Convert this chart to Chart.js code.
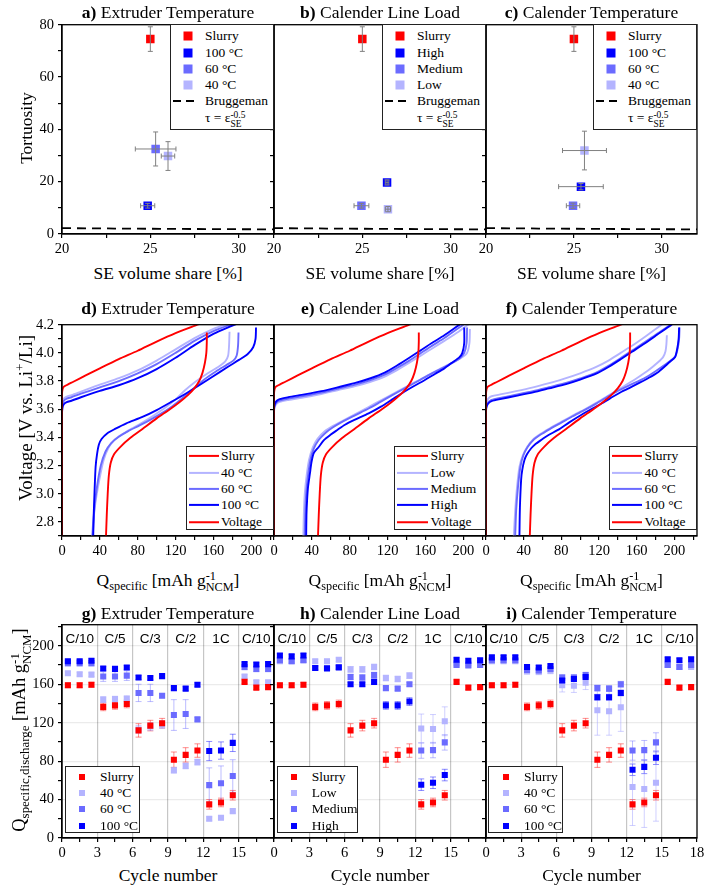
<!DOCTYPE html>
<html>
<head>
<meta charset="utf-8">
<script src="https://cdn.jsdelivr.net/npm/chart.js@4.4.1/dist/chart.umd.min.js"></script>
<style>
  body { margin: 0; background: #fff; }
  #page { position: relative; width: 710px; height: 893px; overflow: hidden;
          font-family: 'Liberation Serif', 'Times New Roman', serif; color: #000; }
  canvas { position: absolute; }
  .t { position: absolute; white-space: nowrap; font-size: 17.5px; line-height: 1;
       transform: translate(-50%, -50%); z-index: 5; }
  .rot { transform: translate(-50%, -50%) rotate(-90deg); }
  .leg { position: absolute; background: #fff; border: 1.2px solid #222; box-sizing: border-box;
         font-size: 13.5px; z-index: 5; }
  .li { position: absolute; white-space: nowrap; line-height: 1; transform: translateY(-50%); }
  .mk { position: absolute; transform: translate(-50%, -50%); }
  .ln { position: absolute; transform: translateY(-50%); }
  .ss { display: inline-block; vertical-align: middle; line-height: 0.9; font-size: 0.7em; text-align: left; }
  sub.s { font-size: 0.7em; vertical-align: -0.3em; line-height: 0; }
  sup.s { font-size: 0.7em; vertical-align: 0.55em; line-height: 0; }
</style>
</head>
<body>
<div id="page"></div>
<script>
// ---------- colours ----------
const cSlurry = '#ff0000';
const cDark = '#0000ff';    // 100 °C / High
const cMid = '#6b6bff';     // 60 °C / Medium
const cLight = '#b4b4ff';   // 40 °C / Low

// ---------- row 1: tortuosity vs SE volume share ----------
const tortNamesA = ['Slurry', '100 °C', '60 °C', '40 °C'];
const tortNamesB = ['Slurry', 'High', 'Medium', 'Low'];
const tortNamesC = ['Slurry', '100 °C', '60 °C', '40 °C'];

const seShareA = [25.0, 24.85, 25.3, 26.0];
const tortA = [74.5, 10.8, 32.5, 29.8];
const seErrA = [0, 0.4, 1.15, 0.38];
const tortErrA = [4.7, 0.9, 6.5, 5.5];

const seShareB = [25.0, 26.4, 24.95, 26.45];
const tortB = [74.5, 19.7, 10.8, 9.5];
const seErrB = [0, 0.1, 0.42, 0.15];
const tortErrB = [4.7, 1.0, 0.9, 1.0];

const seShareC = [25.0, 25.4, 24.95, 25.6];
const tortC = [74.5, 18.1, 10.8, 31.9];
const seErrC = [0, 1.27, 0.38, 1.25];
const tortErrC = [4.7, 1.2, 1.0, 7.4];

const bruggX = [20, 23, 26, 29, 32];
const bruggY = [2.24, 2.09, 1.96, 1.86, 1.77];

// ---------- row 2: voltage profiles [Q, V] ----------
const slurryCharge = [[0,2.70],[0,3.70],[0.5,3.74],[2,3.76],[6,3.775],[12,3.795],[25,3.84],[40,3.89],[60,3.955],[80,4.015],[100,4.08],[120,4.14],[143,4.2],[160,4.25]];
const slurryDischarge = [[153,4.145],[153,4.08],[152.5,4.0],[151,3.93],[148.5,3.86],[145,3.8],[140,3.75],[133,3.7],[124,3.65],[114,3.6],[100,3.535],[85,3.46],[72,3.395],[62,3.335],[55,3.28],[51.5,3.22],[49.5,3.13],[48.3,3.0],[47.3,2.85],[46.5,2.70]];

const d100Charge = [[0,2.70],[0,3.56],[0.5,3.61],[2,3.635],[5,3.65],[10,3.66],[20,3.685],[40,3.73],[60,3.77],[80,3.82],[100,3.885],[120,3.965],[140,4.055],[160,4.135],[175,4.18],[192,4.225]];
const d60Charge = [[0,2.70],[0,3.58],[0.5,3.63],[2,3.66],[5,3.675],[10,3.685],[20,3.71],[40,3.755],[60,3.8],[80,3.855],[100,3.92],[120,4.0],[140,4.085],[160,4.155],[182,4.21]];
const d40Charge = [[0,2.70],[0,3.60],[0.5,3.65],[2,3.675],[5,3.69],[10,3.70],[20,3.725],[40,3.775],[60,3.82],[80,3.875],[100,3.945],[120,4.025],[140,4.105],[160,4.17],[178,4.215]];
const d100Discharge = [[205,4.18],[204.5,4.1],[202,4.04],[196,3.99],[187,3.95],[175,3.9],[159,3.83],[145,3.77],[131,3.712],[115,3.65],[100,3.594],[85,3.545],[68,3.5],[56,3.46],[48,3.43],[42,3.39],[39,3.35],[37,3.28],[35.5,3.19],[34.3,3.0],[33.5,2.85],[33,2.70]];
const d60Discharge = [[186.5,4.145],[186,4.05],[184.5,3.98],[181,3.945],[174,3.915],[163,3.87],[150,3.81],[136,3.73],[122,3.65],[110,3.59],[96,3.535],[82,3.485],[70,3.445],[60,3.405],[52,3.36],[46,3.3],[41,3.2],[37,3.05],[34,2.88],[32.5,2.70]];
const d40Discharge = [[177,4.15],[176.5,4.05],[175.5,3.98],[172.5,3.94],[165,3.9],[154,3.855],[141,3.795],[130,3.735],[120,3.67],[110,3.615],[98,3.56],[85,3.505],[73,3.46],[63,3.42],[55,3.38],[49,3.325],[44,3.24],[39.5,3.1],[35,2.92],[31.5,2.70]];

const eHighCharge = [[0,2.70],[0,3.60],[1,3.64],[3,3.66],[6,3.672],[15,3.685],[32,3.705],[50,3.728],[67,3.755],[85,3.785],[102,3.82],[117,3.86],[130,3.91],[143,3.965],[155,4.018],[168,4.075],[180,4.125],[196,4.2],[205,4.24]];
const eMedCharge = [[0,2.70],[0,3.59],[1,3.63],[3,3.65],[6,3.662],[15,3.675],[32,3.695],[50,3.718],[67,3.745],[85,3.773],[102,3.806],[117,3.845],[130,3.893],[143,3.945],[155,3.998],[168,4.055],[180,4.105],[200,4.2],[207,4.23]];
const eLowCharge = [[0,2.70],[0,3.58],[1,3.62],[3,3.64],[6,3.652],[15,3.665],[32,3.685],[50,3.708],[67,3.735],[85,3.762],[102,3.795],[117,3.832],[130,3.878],[143,3.93],[155,3.98],[168,4.035],[180,4.085],[195,4.15],[205,4.2],[210,4.22]];
const eHighDischarge = [[201,4.18],[201,4.07],[199,4.0],[196,3.97],[188,3.93],[180,3.89],[170,3.85],[159,3.806],[148,3.765],[137.6,3.724],[125,3.67],[113,3.618],[100,3.57],[85,3.524],[75,3.49],[67,3.453],[60,3.42],[53,3.382],[47,3.33],[42,3.288],[39.5,3.22],[38,3.146],[36,3.05],[35,2.958],[34.3,2.85],[34,2.70]];
const eMedDischarge = [[204,4.18],[203.5,4.07],[201,4.0],[196,3.96],[186,3.92],[170,3.865],[155,3.81],[140,3.755],[125,3.7],[112,3.65],[100,3.605],[85,3.555],[72,3.51],[62,3.47],[54,3.43],[47,3.38],[42,3.32],[38.5,3.24],[36,3.13],[34,3.0],[33,2.85],[32.5,2.70]];
const eLowDischarge = [[207,4.17],[206.5,4.07],[204,4.0],[198,3.965],[188,3.93],[172,3.875],[157,3.82],[141,3.765],[126,3.71],[112,3.66],[100,3.615],[86,3.565],[73,3.52],[62,3.48],[53,3.44],[46,3.39],[41,3.33],[37,3.24],[34.5,3.13],[32.5,3.0],[31.5,2.85],[31,2.70]];

const f100Charge = [[0,2.70],[0,3.59],[1,3.625],[3,3.645],[6,3.658],[15,3.672],[32,3.695],[50,3.72],[67,3.748],[85,3.778],[100,3.81],[117,3.852],[130,3.9],[143,3.955],[155,4.008],[168,4.065],[182,4.13],[197,4.2],[205,4.24]];
const f60Charge = [[0,2.70],[0,3.60],[1,3.635],[3,3.653],[6,3.666],[15,3.68],[32,3.703],[50,3.728],[67,3.756],[85,3.786],[100,3.818],[117,3.86],[130,3.908],[143,3.963],[155,4.016],[168,4.073],[182,4.138],[196,4.2],[204,4.235]];
const f40Charge = [[0,2.70],[0,3.62],[1,3.66],[3,3.68],[6,3.692],[15,3.705],[32,3.728],[50,3.755],[67,3.785],[80,3.81],[100,3.855],[117,3.9],[130,3.945],[143,4.0],[155,4.05],[170,4.12],[186.5,4.2],[195,4.24]];
const f100Discharge = [[205,4.18],[204.5,4.1],[203,4.03],[200.7,3.97],[195,3.935],[183,3.865],[172,3.82],[161.6,3.783],[152,3.75],[143.9,3.724],[135,3.69],[126,3.653],[113,3.605],[101,3.559],[88,3.505],[76.4,3.453],[66,3.415],[58.6,3.382],[52,3.35],[48,3.323],[43.5,3.28],[40.9,3.241],[38.5,3.17],[37.3,3.1],[36,2.9],[35.5,2.70]];
const f60Discharge = [[205.5,4.18],[205,4.1],[203.5,4.03],[201,3.975],[194,3.935],[180,3.87],[168,3.82],[157,3.785],[146,3.75],[137,3.72],[127,3.68],[117,3.64],[105,3.595],[92,3.55],[80,3.505],[68,3.46],[58,3.42],[50,3.38],[44,3.33],[39.5,3.27],[36.5,3.19],[34,3.05],[32,2.88],[31,2.70]];
const f40Discharge = [[192,4.125],[191.5,4.06],[190.5,4.01],[188,3.97],[182,3.93],[172,3.875],[160,3.82],[148,3.77],[137,3.725],[127,3.685],[117,3.645],[105,3.6],[92,3.555],[80,3.51],[68,3.465],[58,3.425],[50,3.385],[44,3.335],[39,3.27],[35.5,3.19],[33,3.05],[31,2.88],[29.5,2.70]];

// ---------- row 3: rate capability ----------
const cycleNo = [0.5,1.5,2.5,3.5,4.5,5.5,6.5,7.5,8.5,9.5,10.5,11.5,12.5,13.5,14.5,15.5,16.5,17.5];
const rateNames = ['C/10','C/5','C/3','C/2','1C','C/10'];
const rateMid = [1.5,4.5,7.5,10.5,13.5,16.5];

const qSlurry = [159,159,159.5, 136.5,138,139.5, 112,117,119.5, 81.5,86.5,91, 35,37,44.5, 162.5,156.5,157];
const qSlurryErr = [2.5,2.5,2.5, 4,4,4, 7,5.5,5, 8,7.5,7, 5,4.5,5, 2,2,2];

const qG40 = [171.5,170.5,170, 144,144.5,145, 113,116,118, 70.5,75,79, 20,21,28, 168,162,162];
const qG40Err = [2,2,2, 3,3,3, 4,4,4, 3,3,3, 2,2,2, 2,2,2];
const qG60 = [182,182,182, 168,168,169, 151,151,148, 128,129,123.5, 55,57,64.5, 178,176,176];
const qG60Err = [3,3,3, 5,5,5, 9,9,2, 16,15,2, 18,18,17, 3,3,3];
const qG100 = [184,184,184.5, 176.5,176,177.5, 167,166.5,168.5, 156,155.5,159.5, 90.5,91,99, 181,180.5,181];
const qG100Err = [2,2,2, 2,2,2, 2,2,2, 2,2,2, 10,9,9, 2,2,2];

const qHLow = [184,184,185, 184,184,185.5, 175.5,175.5,178, 166.5,165.5,169, 114,113.5,121.5, 182,181.5,182];
const qHLowErr = [2,2,2, 2,2,2, 3,3,3, 3,3,3, 15,15,15, 2,2,2];
const qHMed = [185,184,185, 177,177,178, 167.5,167,169.5, 156,155.5,160, 91,91.5,99.5, 180,179.5,180];
const qHMedErr = [2,2,2, 2,2,2, 3,3,3, 2,2,2, 8,8,8, 2,2,2];
const qHHigh = [190,189,190, 177,176.5,177.5, 160,160,162.5, 138,138,142, 55.5,57.5,65.5, 185.5,184.5,185];
const qHHighErr = [2,2,2, 2,2,2, 2,2,2, 4,4,4, 6,6,6, 2,2,2];

const qI40 = [184,184,184, 173.5,173,174, 159,158.5,161.5, 133,132,136, 53,51,57.5, 180,178,178];
const qI40Err = [2,2,2, 3,3,3, 7,7,7, 26,25,25, 40,40,40, 2,2,2];
const qI60 = [185,185,185, 175,174.5,176, 167,167,169.5, 156,155.5,160, 91,91.5,99.5, 180,178,180];
const qI60Err = [2,2,2, 2,2,2, 3,3,3, 3,3,3, 10,10,10, 2,2,2];
const qI100 = [188,188,188, 178,177.5,179, 164,165.5,167.5, 146.5,146.5,151, 71,74,83.5, 186,185,186];
const qI100Err = [2,2,2, 2,2,2, 2,2,2, 3,3,3, 6,7,7, 2,2,2];

// ---------- layout ----------
const page = document.getElementById('page');
const ML = 52, MT = 12, MR = 14, MB = 24;
const colL = [62, 274, 486];
const colW = [212, 212, 211];
const serif = "'Liberation Serif', 'Times New Roman', serif";

Chart.defaults.font.family = serif;
Chart.defaults.font.size = 14.5;
Chart.defaults.color = '#000';

const isMult = (v, m) => Math.abs(v / m - Math.round(v / m)) < 1e-6;

function axis(dir, min, max, step, major, fmt, gridColor) {
  return {
    type: 'linear', min, max, bounds: 'data',
    afterBuildTicks: s => {
      const t = [];
      for (let k = 0; min + k * step <= max + 1e-9; k++) t.push({ value: +(min + k * step).toFixed(6) });
      s.ticks = t;
    },
    afterFit: s => { if (dir === 'y') s.width = ML; else s.height = MB; },
    ticks: {
      autoSkip: false, maxRotation: 0, minRotation: 0, padding: dir === 'y' ? 4 : 2,
      font: { family: serif, size: 14.5 }, color: '#000',
      callback: v => (fmt && isMult(v, major)) ? fmt(v) : ''
    },
    grid: {
      drawOnChartArea: !!gridColor,
      color: gridColor ? (c => gridColor(c.tick ? c.tick.value : 0)) : 'rgba(0,0,0,0)',
      tickColor: '#000', tickLength: 4, lineWidth: 1.2
    },
    border: { display: true, color: '#000', width: 1.3 }
  };
}

const framePlugin = {
  id: 'frame',
  afterDraw(c) {
    const a = c.chartArea, ctx = c.ctx;
    ctx.save();
    ctx.strokeStyle = '#000';
    ctx.lineWidth = 1.3;
    ctx.strokeRect(a.left, a.top, a.right - a.left, a.bottom - a.top);
    ctx.restore();
  }
};

function drawErrors(c) {
  const { ctx, chartArea: a } = c;
  const xs = c.scales.x, ys = c.scales.y;
  ctx.save();
  ctx.beginPath();
  ctx.rect(a.left, a.top, a.right - a.left, a.bottom - a.top);
  ctx.clip();
  c.data.datasets.forEach(ds => {
    if (!ds.yErr) return;
    ctx.strokeStyle = ds.errColor;
    ctx.lineWidth = 1;
    const cap = ds.capW || 3;
    ds.data.forEach((p, i) => {
      const px = xs.getPixelForValue(p.x), py = ys.getPixelForValue(p.y);
      const ey = ds.yErr[i] || 0, ex = ds.xErr ? ds.xErr[i] || 0 : 0;
      ctx.beginPath();
      if (ey) {
        const y1 = ys.getPixelForValue(p.y + ey), y2 = ys.getPixelForValue(p.y - ey);
        ctx.moveTo(px, y1); ctx.lineTo(px, y2);
        ctx.moveTo(px - cap, y1); ctx.lineTo(px + cap, y1);
        ctx.moveTo(px - cap, y2); ctx.lineTo(px + cap, y2);
      }
      if (ex) {
        const x1 = xs.getPixelForValue(p.x - ex), x2 = xs.getPixelForValue(p.x + ex);
        ctx.moveTo(x1, py); ctx.lineTo(x2, py);
        ctx.moveTo(x1, py - cap); ctx.lineTo(x1, py + cap);
        ctx.moveTo(x2, py - cap); ctx.lineTo(x2, py + cap);
      }
      ctx.stroke();
    });
  });
  ctx.restore();
}
const errAfter = { id: 'errAfter', afterDatasetsDraw: drawErrors };
const errBefore = { id: 'errBefore', beforeDatasetsDraw: drawErrors };

const ratePlugin = {
  id: 'rates',
  afterDatasetsDraw(c) {
    const ctx = c.ctx, xs = c.scales.x;
    ctx.save();
    ctx.font = "13.5px 'Liberation Sans', Arial, sans-serif";
    ctx.fillStyle = '#000';
    ctx.textAlign = 'center';
    ctx.textBaseline = 'middle';
    rateNames.forEach((r, i) => ctx.fillText(r, xs.getPixelForValue(rateMid[i]), c.chartArea.top + 14.5));
    ctx.restore();
  }
};

function makeChart(l, t, w, h, datasets, xAx, yAx, plugins) {
  const cv = document.createElement('canvas');
  cv.width = w + ML + MR;
  cv.height = h + MT + MB;
  cv.style.left = (l - ML) + 'px';
  cv.style.top = (t - MT) + 'px';
  page.appendChild(cv);
  new Chart(cv, {
    type: 'scatter',
    data: { datasets },
    options: {
      responsive: false, animation: false, devicePixelRatio: 1, events: [],
      layout: { padding: { top: MT, right: MR, left: 0, bottom: 0 } },
      scales: { x: xAx, y: yAx },
      plugins: { legend: { display: false }, tooltip: { enabled: false } }
    },
    plugins: [framePlugin].concat(plugins)
  });
}

// ---------- row 1 ----------
const tortColors = [cSlurry, cDark, cMid, cLight];
function tortSets(xs, ys, xe, ye) {
  const sets = xs.map((x, i) => ({
    data: [{ x, y: ys[i] }], xErr: [xe[i]], yErr: [ye[i]], errColor: '#808080', capW: 2.5,
    pointStyle: 'rect', pointRadius: 6, backgroundColor: tortColors[i], borderWidth: 0, showLine: false
  }));
  sets.push({
    data: bruggX.map((x, i) => ({ x, y: bruggY[i] })), showLine: true, pointRadius: 0,
    borderColor: '#000', borderWidth: 1.8, borderDash: [9, 6], clip: 0
  });
  return sets;
}
const row1Data = [[seShareA, tortA, seErrA, tortErrA], [seShareB, tortB, seErrB, tortErrB], [seShareC, tortC, seErrC, tortErrC]];
row1Data.forEach((d, k) => {
  makeChart(colL[k], 24, colW[k], 210, tortSets(...d),
    axis('x', 20, 32, 2.5, 5, v => String(v)),
    axis('y', 0, 80, 10, 20, k === 0 ? (v => String(v)) : null),
    [errAfter]);
});

// ---------- row 2 ----------
function vSet(points, color, width) {
  return { data: points.map(p => ({ x: p[0], y: p[1] })), showLine: true, pointRadius: 0,
           borderColor: color, borderWidth: width, tension: 0.25, clip: 0 };
}
function voltSets(dark, mid, light) {
  return [
    vSet(slurryCharge, cSlurry, 1.9), vSet(slurryDischarge, cSlurry, 1.9),
    vSet(dark[0], cDark, 1.9), vSet(dark[1], cDark, 1.9),
    vSet(mid[0], cMid, 1.9), vSet(mid[1], cMid, 1.9),
    vSet(light[0], cLight, 1.9), vSet(light[1], cLight, 1.9)
  ];
}
const row2Data = [
  voltSets([d100Charge, d100Discharge], [d60Charge, d60Discharge], [d40Charge, d40Discharge]),
  voltSets([eHighCharge, eHighDischarge], [eMedCharge, eMedDischarge], [eLowCharge, eLowDischarge]),
  voltSets([f100Charge, f100Discharge], [f60Charge, f60Discharge], [f40Charge, f40Discharge])
];
row2Data.forEach((sets, k) => {
  makeChart(colL[k], 324, colW[k], 212, sets,
    axis('x', 0, 224, 20, 40, v => String(v)),
    axis('y', 2.7, 4.2, 0.1, 0.2, k === 0 ? (v => v.toFixed(1)) : null),
    []);
});

// ---------- row 3 ----------
function qSet(vals, errs, color, errColor) {
  return { data: cycleNo.map((x, i) => ({ x, y: vals[i] })), yErr: errs, errColor, capW: 3,
           pointStyle: 'rect', pointRadius: 4.3, backgroundColor: color, borderWidth: 0, showLine: false };
}
const row3Data = [
  [[qG100, qG100Err], [qG60, qG60Err], [qG40, qG40Err]],
  [[qHHigh, qHHighErr], [qHMed, qHMedErr], [qHLow, qHLowErr]],
  [[qI100, qI100Err], [qI60, qI60Err], [qI40, qI40Err]]
];
const vGrid = v => (v > 0 && v < 18 && isMult(v, 3)) ? '#c6c6c6' : 'rgba(0,0,0,0)';
const hGrid = v => (v > 0 && isMult(v, 40)) ? 'rgba(0,0,0,0.08)' : 'rgba(0,0,0,0)';
row3Data.forEach((s, k) => {
  const sets = [
    qSet(qSlurry, qSlurryErr, cSlurry, 'rgba(255,0,0,0.45)'),
    qSet(s[0][0], s[0][1], cDark, 'rgba(0,0,255,0.45)'),
    qSet(s[1][0], s[1][1], cMid, 'rgba(107,107,255,0.45)'),
    qSet(s[2][0], s[2][1], cLight, 'rgba(150,150,255,0.45)')
  ];
  makeChart(colL[k], 624, colW[k], 214, sets,
    axis('x', 0, 18, 1.5, 3, v => (k < 2 && v > 17) ? '' : String(v), vGrid),
    axis('y', 0, 222, 20, 40, k === 0 ? (v => String(v)) : null, hGrid),
    [errBefore, ratePlugin]);
});

// ---------- text ----------
function text(html, x, y, cls, size) {
  const d = document.createElement('div');
  d.className = 't' + (cls ? ' ' + cls : '');
  d.innerHTML = html;
  d.style.left = x + 'px';
  d.style.top = y + 'px';
  if (size) d.style.fontSize = size + 'px';
  page.appendChild(d);
}
const centers = [168, 380, 591.5];
const titles = [
  ['a)', 'Extruder Temperature'], ['b)', 'Calender Line Load'], ['c)', 'Calender Temperature'],
  ['d)', 'Extruder Temperature'], ['e)', 'Calender Line Load'], ['f)', 'Calender Temperature'],
  ['g)', 'Extruder Temperature'], ['h)', 'Calender Line Load'], ['i)', 'Calender Temperature']
];
const titleY = [12.5, 309, 614];
titles.forEach((t, i) => text('<b>' + t[0] + '</b> ' + t[1], centers[i % 3], titleY[Math.floor(i / 3)]));

const gNCM = 'g<span class="ss">-1<br>NCM</span>';
centers.forEach(cx => {
  text('SE volume share [%]', cx, 274);
  text('Q<sub class="s">specific</sub> [mAh ' + gNCM + ']', cx, 582);
  text('Cycle number', cx, 876);
});
text('Tortuosity', 27, 128, 'rot');
text('Voltage [V vs. Li<sup class="s">+</sup>/Li]', 25, 418, 'rot', 19);
text('Q<sub class="s">specific,discharge</sub> [mAh ' + gNCM + ']', 21, 730, 'rot', 18.5);

// ---------- legends ----------
function legend(l, t, w, h, items) {
  const b = document.createElement('div');
  b.className = 'leg';
  Object.assign(b.style, { left: l + 'px', top: t + 'px', width: w + 'px', height: h + 'px' });
  items.forEach(it => {
    if (it.sq) {
      const m = document.createElement('div');
      m.className = 'mk';
      Object.assign(m.style, { left: it.mx + 'px', top: it.y + 'px', width: it.sq + 'px', height: it.sq + 'px', background: it.color });
      b.appendChild(m);
    }
    if (it.line) {
      const m = document.createElement('div');
      m.className = 'ln';
      Object.assign(m.style, { left: it.line[0] + 'px', top: it.y + 'px', width: (it.line[1] - it.line[0]) + 'px',
        height: it.lw + 'px', background: it.dash ? 'repeating-linear-gradient(to right,#000 0 8px,transparent 8px 13px)' : it.color });
      b.appendChild(m);
    }
    const s = document.createElement('div');
    s.className = 'li';
    s.innerHTML = it.label;
    Object.assign(s.style, { left: it.tx + 'px', top: it.y + 'px' });
    b.appendChild(s);
  });
  page.appendChild(b);
}

const legRow1 = [[170, tortNamesA], [382, tortNamesB], [593, tortNamesC]];
const row1Y = [10.7, 27.7, 43.7, 60];
legRow1.forEach(([l, names]) => {
  const items = names.map((n, i) => ({ label: n, y: row1Y[i], sq: 9, mx: 16.5, tx: 34, color: tortColors[i] }));
  items.push({ label: 'Bruggeman', y: 76, line: [2, 23], lw: 2, dash: true, tx: 34 });
  items.push({ label: 'τ = ε<span class="ss">-0.5<br>SE</span>', y: 94, tx: 34 });
  legend(l, 24, 104, 106, items);
});

const vNames = [['40 °C', '60 °C', '100 °C'], ['Low', 'Medium', 'High'], ['40 °C', '60 °C', '100 °C']];
const legRow2 = [[186, 88, 32, 34], [394, 92, 33, 35.5], [609, 88, 32, 34.5]];
const row2Y = [9, 25.7, 41.7, 58, 75];
legRow2.forEach(([l, w, le, tx], k) => {
  const cols = [cSlurry, cLight, cMid, cDark, cSlurry];
  const labs = ['Slurry'].concat(vNames[k]).concat(['Voltage']);
  legend(l, 446, w, 84, labs.map((n, i) => ({ label: n, y: row2Y[i], line: [2, le], lw: i === 4 ? 1.5 : 2.2, color: cols[i], tx })));
});

const legRow3 = [[65, 75, 15.5, 34], [277, 81, 16, 33.7], [488, 75, 16.7, 35]];
const row3Y = [9.7, 26, 42.3, 59];
legRow3.forEach(([l, w, mx, tx], k) => {
  const cols = [cSlurry, cLight, cMid, cDark];
  const labs = ['Slurry'].concat(vNames[k]);
  legend(l, 766, w, 67, labs.map((n, i) => ({ label: n, y: row3Y[i], sq: 6, mx, color: cols[i], tx })));
});
</script>
</body>
</html>
